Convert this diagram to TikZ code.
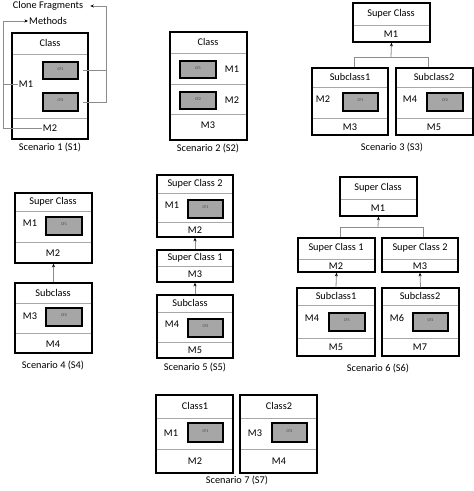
\documentclass[tikz,border=0pt]{standalone}
\usepackage{fontspec}
\setmainfont{Carlito}
\usetikzlibrary{fit,arrows.meta}
\definecolor{cfgray}{HTML}{A6A6A6}
\definecolor{divgray}{HTML}{A8A8A8}
\definecolor{congray}{HTML}{8C8C8C}
\begin{document}
\begin{tikzpicture}[x=1pt,y=-1pt,
  box/.style={draw=black, line width=1.5pt, inner sep=0pt},
  cf/.style={draw=black, line width=1.2pt, fill=cfgray, inner sep=0pt, font=\fontsize{4}{4}\selectfont, text=black!75},
  lbl/.style={font=\fontsize{10.3}{12}\selectfont, inner sep=1pt},
  div/.style={draw=divgray, line width=0.8pt},
  conn/.style={draw=congray, line width=0.8pt},
  arr/.style={conn, -{Stealth[length=3.5pt,width=3pt,color=black]}}]
\useasboundingbox (0,0) rectangle (474,491);

% ---------------- Scenario 1 ----------------
\draw[div] (12,54) -- (88,54);
\draw[div] (12,118) -- (88,118);
\node[box, fit={(12,33) (88,139)}] (s1box) {};
\node[lbl] (s1cls) at (50,43) {Class};
\node[cf, fit={(43,62) (78,79)}] (s1cf1) {CF1};
\node[cf, fit={(43,93) (78,111)}] (s1cf2) {CF2};
\node[lbl] (s1m1) at (26,84) {M1};
\node[lbl] (s1m2) at (50,128) {M2};
\node[lbl] (s1clone) at (48,6) {Clone Fragments};
\node[lbl] (s1meth) at (48,21) {Methods};
\node[lbl] (s1cap) at (50,147) {Scenario 1 (S1)};
\coordinate (mv1) at (3,21);
\coordinate (mvm) at (3,84);
\coordinate (mv2) at (3,128);
\draw[arr] (mv2) -- (mv1) -- (s1meth.west);
\draw[conn] (mv2) -- (s1m2.west);
\draw[conn] (mvm) -- (s1m1.west);
\coordinate (cv1) at (106,6);
\draw[arr, shorten >=6pt] ([xshift=4pt]s1cf2.east) -| (cv1) -- (s1clone.east);
\draw[conn] ([xshift=4pt]s1cf1.east) -- (s1cf1.east -| cv1);

% ---------------- Scenario 2 ----------------
\draw[div] (170,53) -- (247,53);
\draw[div] (170,84) -- (247,84);
\draw[div] (170,114) -- (247,114);
\node[box, fit={(170,32) (247,140)}] (s2box) {};
\node[lbl] (s2cls) at (208,42) {Class};
\node[cf, fit={(180,61) (216,78)}] (s2cf1) {CF1};
\node[cf, fit={(180,92) (216,109)}] (s2cf2) {CF2};
\node[lbl] (s2m1) at (232,69) {M1};
\node[lbl] (s2m2) at (232,100) {M2};
\node[lbl] (s2m3) at (208,125) {M3};
\node[lbl] (s2cap) at (208,148) {Scenario 2 (S2)};

% ---------------- Scenario 3 ----------------
\draw[div] (353,25) -- (430,25);
\node[box, fit={(353,3) (430,42)}] (s3sup) {};
\node[lbl] (s3supt) at (391,14) {Super Class};
\node[lbl] (s3m1) at (391,34) {M1};
\draw[div] (312,87) -- (388,87);
\draw[div] (312,118) -- (388,118);
\node[box, fit={(312,68) (388,135)}] (s3sub1) {};
\node[lbl] (s3sub1t) at (350,77) {Subclass1};
\node[lbl] (s3m2) at (323,99) {M2};
\node[cf, fit={(343,93) (378,111)}] (s3cf1) {CF1};
\node[lbl] (s3m3) at (350,127) {M3};
\draw[div] (396,87) -- (473,87);
\draw[div] (396,118) -- (473,118);
\node[box, fit={(396,68) (473,135)}] (s3sub2) {};
\node[lbl] (s3sub2t) at (434,77) {Subclass2};
\node[lbl] (s3m4) at (410,99) {M4};
\node[cf, fit={(427,93) (463,111)}] (s3cf2) {CF2};
\node[lbl] (s3m5) at (434,127) {M5};
\coordinate (s3j) at (391,57);
\draw[conn] ([xshift=4pt]s3sub1.north) |- (s3j);
\draw[conn] ([xshift=-6pt]s3sub2.north) |- (s3j);
\draw[arr] (s3j) -- (s3sup.south);
\node[lbl] (s3cap) at (392,147) {Scenario 3 (S3)};

% ---------------- Scenario 4 ----------------
\draw[div] (15,211) -- (92,211);
\draw[div] (15,242) -- (92,242);
\node[box, fit={(15,193) (92,263)}] (s4sup) {};
\node[lbl] (s4supt) at (53,202) {Super Class};
\node[lbl] (s4m1) at (30,223) {M1};
\node[cf, fit={(46,217) (82,235)}] (s4cf1) {CF1};
\node[lbl] (s4m2) at (53,253) {M2};
\draw[div] (15,303) -- (92,303);
\draw[div] (15,333) -- (92,333);
\node[box, fit={(15,283) (92,353)}] (s4sub) {};
\node[lbl] (s4subt) at (53,293) {Subclass};
\node[lbl] (s4m3) at (30,316) {M3};
\node[cf, fit={(46,308) (82,326)}] (s4cf2) {CF2};
\node[lbl] (s4m4) at (53,344) {M4};
\draw[arr] (s4sub.north) -- (s4sup.south);
\node[lbl] (s4cap) at (53,365) {Scenario 4 (S4)};

% ---------------- Scenario 5 ----------------
\draw[div] (157,193) -- (233,193);
\draw[div] (157,222) -- (233,222);
\node[box, fit={(157,175) (233,237)}] (s5sc2) {};
\node[lbl] (s5sc2t) at (195,184) {Super Class 2};
\node[lbl] (s5m1) at (172,205) {M1};
\node[cf, fit={(188,200) (223,218)}] (s5cf1) {CF1};
\node[lbl] (s5m2) at (195,230) {M2};
\draw[div] (157,266) -- (233,266);
\node[box, fit={(157,250) (233,282)}] (s5sc1) {};
\node[lbl] (s5sc1t) at (195,258) {Super Class 1};
\node[lbl] (s5m3) at (195,274) {M3};
\draw[div] (157,312) -- (233,312);
\draw[div] (157,342) -- (233,342);
\node[box, fit={(157,295) (233,358)}] (s5sub) {};
\node[lbl] (s5subt) at (190,303) {Subclass};
\node[lbl] (s5m4) at (172,324) {M4};
\node[cf, fit={(188,319) (223,337)}] (s5cf2) {CF2};
\node[lbl] (s5m5) at (195,350) {M5};
\draw[arr] (s5sc1.north) -- (s5sc2.south);
\draw[arr] (s5sub.north) -- (s5sc1.south);
\node[lbl] (s5cap) at (195,367) {Scenario 5 (S5)};

% ---------------- Scenario 6 ----------------
\draw[div] (340,199) -- (417,199);
\node[box, fit={(340,177) (417,216)}] (s6sup) {};
\node[lbl] (s6supt) at (378,188) {Super Class};
\node[lbl] (s6m1) at (378,208) {M1};
\draw[div] (298,259) -- (375,259);
\node[box, fit={(298,238) (375,272)}] (s6sc1) {};
\node[lbl] (s6sc1t) at (336,248) {Super Class 1};
\node[lbl] (s6m2) at (336,266) {M2};
\draw[div] (382,259) -- (458,259);
\node[box, fit={(382,238) (458,272)}] (s6sc2) {};
\node[lbl] (s6sc2t) at (420,248) {Super Class 2};
\node[lbl] (s6m3) at (420,266) {M3};
\coordinate (s6j) at (378,227);
\draw[conn] ([xshift=3.5pt]s6sc1.north) |- (s6j);
\draw[conn] ([xshift=3pt]s6sc2.north) |- (s6j);
\draw[arr] (s6j) -- (s6sup.south);
\draw[div] (297,305) -- (375,305);
\draw[div] (297,338) -- (375,338);
\node[box, fit={(297,288) (375,356)}] (s6sub1) {};
\node[lbl] (s6sub1t) at (336,296) {Subclass1};
\node[lbl] (s6m4) at (312,318) {M4};
\node[cf, fit={(329,313) (365,331)}] (s6cf1) {CF1};
\node[lbl] (s6m5) at (336,347) {M5};
\draw[div] (382,305) -- (459,305);
\draw[div] (382,338) -- (459,338);
\node[box, fit={(382,288) (459,356)}] (s6sub2) {};
\node[lbl] (s6sub2t) at (420,296) {Subclass2};
\node[lbl] (s6m6) at (397,318) {M6};
\node[cf, fit={(413,313) (448,331)}] (s6cf2) {CF2};
\node[lbl] (s6m7) at (420,347) {M7};
\draw[arr] (s6sub1.north) -- (s6sc1.south);
\draw[arr] (s6sub2.north) -- (s6sc2.south);
\node[lbl] (s6cap) at (378,368) {Scenario 6 (S6)};

% ---------------- Scenario 7 ----------------
\draw[div] (156,418) -- (233,418);
\draw[div] (156,449) -- (233,449);
\node[box, fit={(156,395) (233,473)}] (s7c1) {};
\node[lbl] (s7c1t) at (195,406) {Class1};
\node[lbl] (s7m1) at (171,433) {M1};
\node[cf, fit={(188,423) (223,442)}] (s7cf1) {CF1};
\node[lbl] (s7m2) at (195,461) {M2};
\draw[div] (240,418) -- (317,418);
\draw[div] (240,449) -- (317,449);
\node[box, fit={(240,395) (317,473)}] (s7c2) {};
\node[lbl] (s7c2t) at (279,406) {Class2};
\node[lbl] (s7m3) at (255,433) {M3};
\node[cf, fit={(272,423) (307,442)}] (s7cf2) {CF2};
\node[lbl] (s7m4) at (279,461) {M4};
\node[lbl] (s7cap) at (237,480) {Scenario 7 (S7)};
\end{tikzpicture}
\end{document}
